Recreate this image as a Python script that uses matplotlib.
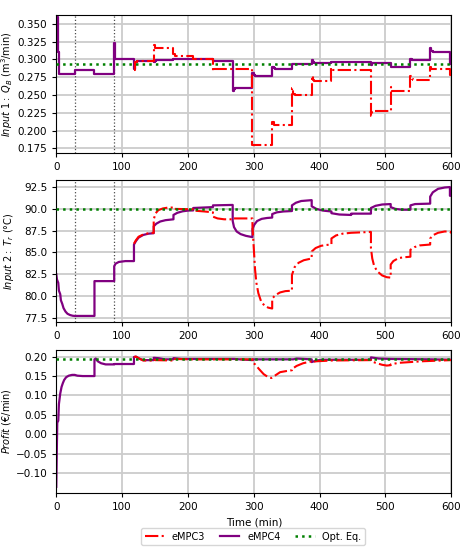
import matplotlib
matplotlib.use("Agg")
import matplotlib.pyplot as plt

# Input 1: Q_B (m3/min), step signals (time, value) - steps-post
qb4_t = [0, 2, 4, 6, 28, 58, 88, 89, 118, 120, 122, 148, 150, 152, 178, 208, 238, 268, 270, 272,
         298, 300, 302, 328, 330, 332, 358, 388, 390, 392, 418, 420, 422, 478, 480, 482, 508, 538,
         540, 542, 568, 570, 572, 598, 600]
qb4_v = [0.360, 0.311, 0.280, 0.279, 0.285, 0.279, 0.323, 0.300, 0.287, 0.297, 0.298, 0.296, 0.298,
         0.299, 0.301, 0.300, 0.298, 0.255, 0.259, 0.260, 0.281, 0.278, 0.277, 0.290, 0.288, 0.287,
         0.293, 0.299, 0.296, 0.295, 0.297, 0.296, 0.296, 0.292, 0.295, 0.295, 0.290, 0.301, 0.299,
         0.299, 0.316, 0.312, 0.311, 0.293, 0.293]
qb3_t = [118, 120, 122, 148, 150, 178, 180, 208, 210, 238, 240, 242, 298, 328, 330, 358, 360, 362,
         388, 390, 392, 418, 420, 478, 480, 482, 508, 510, 512, 538, 540, 542, 568, 570, 598, 600]
qb3_v = [0.285, 0.297, 0.298, 0.320, 0.316, 0.307, 0.305, 0.301, 0.300, 0.284, 0.286, 0.287, 0.180,
         0.212, 0.208, 0.260, 0.251, 0.250, 0.276, 0.271, 0.270, 0.288, 0.285, 0.221, 0.226, 0.227,
         0.261, 0.256, 0.255, 0.277, 0.272, 0.271, 0.290, 0.286, 0.278, 0.278]

# Input 2: T_r (degC)
tr4_t = [0, 1, 3, 4, 6, 7, 9, 11, 14, 17, 21, 25, 28, 58, 58, 88, 88, 90, 95, 105, 118, 118, 121,
         125, 132, 140, 148, 148, 152, 158, 166, 178, 178, 184, 192, 200, 208, 208, 238, 238, 268,
         268, 270, 274, 280, 288, 298, 298, 301, 305, 312, 320, 328, 328, 335, 345, 358, 358, 364,
         372, 388, 388, 395, 405, 418, 418, 430, 448, 448, 478, 478, 485, 495, 508, 508, 515, 525,
         538, 538, 545, 568, 568, 572, 580, 590, 598, 598, 600]
tr4_v = [82.5, 81.9, 81.5, 80.6, 80.2, 79.5, 79.1, 78.6, 78.2, 77.95, 77.8, 77.72, 77.7, 77.7, 81.7,
         81.7, 83.4, 83.7, 83.9, 84.0, 84.0, 85.9, 86.3, 86.7, 87.0, 87.15, 87.2, 88.0, 88.3, 88.55,
         88.7, 88.8, 89.3, 89.55, 89.72, 89.8, 89.82, 90.1, 90.2, 90.4, 90.45, 88.6, 87.9, 87.4,
         87.1, 86.9, 86.75, 87.7, 88.2, 88.6, 88.85, 88.95, 89.0, 89.4, 89.6, 89.7, 89.75, 90.4,
         90.7, 90.9, 91.0, 90.3, 90.0, 89.8, 89.7, 89.5, 89.35, 89.3, 89.45, 89.45, 90.1, 90.35,
         90.5, 90.55, 90.2, 90.0, 89.9, 89.9, 90.4, 90.55, 90.6, 91.4, 91.9, 92.3, 92.45, 92.5,
         91.5, 91.5]
tr3_t = [118, 121, 125, 132, 140, 148, 148, 151, 155, 162, 170, 178, 178, 208, 208, 225, 238, 238,
         245, 255, 268, 268, 298, 298, 300, 302, 304, 307, 311, 316, 322, 328, 328, 333, 340, 348,
         358, 358, 362, 368, 376, 388, 388, 394, 402, 410, 418, 418, 425, 435, 448, 478, 478, 480,
         483, 488, 495, 502, 508, 508, 512, 520, 530, 538, 538, 544, 552, 568, 568, 573, 580, 590,
         598, 600]
tr3_v = [86.0, 86.4, 86.8, 87.05, 87.2, 87.25, 88.8, 89.5, 89.85, 90.05, 90.15, 90.15, 90.0, 89.95,
         89.8, 89.7, 89.6, 89.1, 88.9, 88.8, 88.8, 88.9, 88.9, 88.0, 85.5, 83.0, 81.5, 80.3, 79.4,
         78.9, 78.65, 78.55, 79.7, 80.1, 80.4, 80.55, 80.6, 82.4, 83.3, 83.8, 84.1, 84.3, 85.1,
         85.5, 85.75, 85.85, 85.9, 86.6, 86.95, 87.15, 87.25, 87.35, 85.5, 84.3, 83.4, 82.8, 82.35,
         82.15, 82.1, 83.6, 84.0, 84.35, 84.45, 84.5, 85.3, 85.6, 85.8, 85.9, 86.6, 87.0, 87.25,
         87.4, 87.4, 87.2]

# Profit (EUR/min)
pr4_t = [0, 1, 1.5, 3, 4, 6, 8, 10, 12, 15, 19, 24, 28, 32, 40, 58, 58, 60, 63, 68, 75, 88, 88, 118,
         118, 121, 126, 132, 148, 148, 155, 165, 178, 178, 190, 208, 240, 270, 298, 298, 360, 365,
         388, 388, 395, 405, 478, 478, 490, 510, 570, 600]
pr4_v = [-0.135, -0.02, 0.03, 0.035, 0.078, 0.105, 0.122, 0.132, 0.140, 0.147, 0.151, 0.153, 0.153,
         0.151, 0.150, 0.150, 0.193, 0.195, 0.188, 0.183, 0.180, 0.180, 0.181, 0.181, 0.199, 0.200,
         0.195, 0.191, 0.191, 0.197, 0.196, 0.193, 0.193, 0.196, 0.194, 0.194, 0.194, 0.194, 0.191,
         0.193, 0.193, 0.195, 0.193, 0.186, 0.190, 0.192, 0.192, 0.198, 0.195, 0.194, 0.193, 0.192]
pr3_t = [118, 121, 126, 132, 148, 148, 150, 178, 178, 208, 298, 298, 302, 308, 315, 322, 327, 328,
         333, 340, 350, 358, 358, 365, 375, 388, 388, 395, 418, 478, 478, 485, 495, 502, 508, 508,
         520, 538, 555, 570, 600]
pr3_v = [0.199, 0.200, 0.195, 0.190, 0.190, 0.193, 0.191, 0.190, 0.194, 0.193, 0.193, 0.186, 0.180,
         0.168, 0.155, 0.147, 0.145, 0.146, 0.152, 0.160, 0.163, 0.165, 0.168, 0.176, 0.183, 0.188,
         0.186, 0.188, 0.190, 0.191, 0.189, 0.184, 0.179, 0.177, 0.178, 0.180, 0.184, 0.186, 0.188,
         0.189, 0.191]

opt_qb = 0.2935
opt_tr = 90.0
opt_pr = 0.1935
switch_times = [28, 88]

plt.rcParams['font.size'] = 7.5
plt.rcParams['font.family'] = ['DejaVu Sans']

fig = plt.figure(figsize=(4.73, 5.5), dpi=100)
ax1 = fig.add_axes([0.119, 0.722, 0.835, 0.251])
ax2 = fig.add_axes([0.119, 0.4145, 0.835, 0.258])
ax3 = fig.add_axes([0.119, 0.1036, 0.835, 0.26])

# top
ax1.plot(qb3_t, qb3_v, '-.', color='red', lw=1.5, drawstyle='steps-post', zorder=3, label='eMPC3')
ax1.plot(qb4_t, qb4_v, '-', color='purple', lw=1.6, drawstyle='steps-post', zorder=2, label='eMPC4')
ax1.axhline(opt_qb, color='green', ls=':', lw=1.8, zorder=4, label='Opt. Eq.')
ax1.set_ylim(0.1685, 0.3627)
ax1.set_yticks([0.175, 0.200, 0.225, 0.250, 0.275, 0.300, 0.325, 0.350])
ax1.set_yticklabels(['0.175', '0.200', '0.225', '0.250', '0.275', '0.300', '0.325', '0.350'])
ax1.set_ylabel(r'$Input\ 1:\ Q_B$ (m$^3$/min)', fontsize=7, labelpad=2)

# middle
ax2.plot(tr3_t, tr3_v, '-.', color='red', lw=1.5, zorder=3)
ax2.plot(tr4_t, tr4_v, '-', color='purple', lw=1.6, zorder=2)
ax2.axhline(opt_tr, color='green', ls=':', lw=1.8, zorder=4)
ax2.set_ylim(77.0, 93.3)
ax2.set_yticks([77.5, 80.0, 82.5, 85.0, 87.5, 90.0, 92.5])
ax2.set_yticklabels(['77.5', '80.0', '82.5', '85.0', '87.5', '90.0', '92.5'])
ax2.set_ylabel(r'$Input\ 2:\ T_r$ (°C)', fontsize=7, labelpad=6)

# bottom
ax3.plot(pr3_t, pr3_v, '-.', color='red', lw=1.5, zorder=3, label='eMPC3')
ax3.plot(pr4_t, pr4_v, '-', color='purple', lw=1.6, zorder=2, label='eMPC4')
ax3.axhline(opt_pr, color='green', ls=':', lw=1.8, zorder=4, label='Opt. Eq.')
ax3.set_ylim(-0.151, 0.217)
ax3.set_yticks([-0.10, -0.05, 0.00, 0.05, 0.10, 0.15, 0.20])
ax3.set_yticklabels(['\u22120.10', '\u22120.05', '0.00', '0.05', '0.10', '0.15', '0.20'])
ax3.set_ylabel(r'$Profit$ (€/min)', fontsize=7, labelpad=2)
ax3.set_xlabel('Time (min)')

for ax in (ax1, ax2):
    for ts in switch_times:
        ax.axvline(ts, color='0.3', ls=':', lw=0.9, zorder=1)

for ax in (ax1, ax2, ax3):
    ax.set_xlim(0, 600)
    ax.set_xticks([0, 100, 200, 300, 400, 500, 600])
    ax.grid(True, color='0.8', lw=1.3, zorder=0)
    ax.set_axisbelow(True)
    ax.tick_params(length=3, width=0.8)

fig.legend(*ax3.get_legend_handles_labels(), loc='center', bbox_to_anchor=(0.535, 0.0245),
           ncol=3, frameon=True, fontsize=7, handlelength=2, columnspacing=1.5)

fig.savefig('out.png', dpi=100)
